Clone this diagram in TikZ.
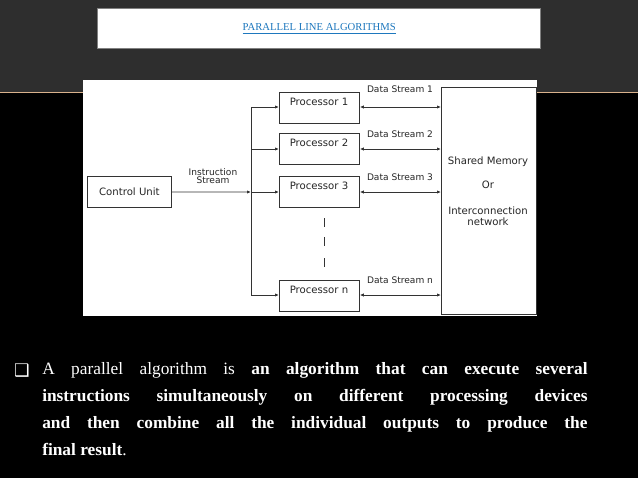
\documentclass[tikz,border=0pt]{standalone}
\usepackage{fontspec}
\setmainfont{Liberation Serif}
\newfontfamily\dv{DejaVu Sans}
\begin{document}
\begin{tikzpicture}[x=0.75pt,y=-0.75pt,
  box/.style={draw=black!80,line width=0.6pt,fill=white,inner sep=0},
  lbl/.style={font=\dv\fontsize{6.8}{8}\selectfont,text=black!85},
  plbl/.style={font=\dv\fontsize{7.6}{9}\selectfont,text=black!85},
  conn/.style={line width=0.6pt,black!80},
  tip/.style={-{Latex[length=3pt,width=2.5pt]}},
  dtip/.style={{Latex[length=3pt,width=2.5pt]}-{Latex[length=3pt,width=2.5pt]}}]
\usetikzlibrary{arrows.meta}
\useasboundingbox (0,0) rectangle (638,478);
\fill[black] (0,0) rectangle (638,478);
\fill[black!82] (0,0) rectangle (638,92);
\draw[brown!60!white,line width=0.6pt] (0,92) -- (638,92);
% title
\node[box,draw=gray,line width=1pt,minimum width=443*0.75pt,minimum height=40*0.75pt,anchor=north west] (title) at (97,8) {};
\node[font=\fontsize{8}{10}\selectfont,text={rgb,255:red,30;green,120;blue,190}] (tt) at (title.center) {\underline{PARALLEL LINE ALGORITHMS}};
% diagram panel
\fill[white] (83,80) rectangle (537,316);
\node[box,minimum width=84*0.75pt,minimum height=31*0.75pt,anchor=north west,plbl] (cu) at (87,176) {Control Unit};
\node[box,minimum width=80*0.75pt,minimum height=31*0.75pt,anchor=north west,plbl] (p1) at (279,92) {};
\node[box,minimum width=80*0.75pt,minimum height=31*0.75pt,anchor=north west,plbl] (p2) at (279,133) {};
\node[box,minimum width=80*0.75pt,minimum height=31*0.75pt,anchor=north west,plbl] (p3) at (279,176) {};
\node[box,minimum width=80*0.75pt,minimum height=31*0.75pt,anchor=north west,plbl] (pn) at (279,280) {};
\node[plbl] at (319,102) {Processor 1};
\node[plbl] at (319,143) {Processor 2};
\node[plbl] at (319,186) {Processor 3};
\node[plbl] at (319,290) {Processor n};
\node[box,minimum width=95*0.75pt,minimum height=227*0.75pt,anchor=north west] (sm) at (441,87) {};
\node[plbl,align=center] at (488,162) {Shared Memory};
\node[plbl] at (488,185) {Or};
\node[plbl,align=center] at (488,216) {Interconnection\\[-1pt]network};
% bus
\coordinate (b1) at (251,107);
\coordinate (b2) at (251,149);
\coordinate (b3) at (251,192);
\coordinate (bn) at (251,295);
\draw[conn,tip] (cu.east) -- (b3);
\draw[conn] (b1) -- (bn);
\draw[conn,tip] (b1) -- (p1.west |- b1);
\draw[conn,tip] (b2) -- (p2.west |- b2);
\draw[conn,tip] (b3) -- (p3.west |- b3);
\draw[conn,tip] (bn) -- (pn.west |- bn);
\node[lbl,align=center] at (213,176) {Instruction\\[-1.5pt]Stream};
% data streams
\draw[conn,dtip] (p1.east |- b1) -- (sm.west |- b1);
\draw[conn,dtip] (p2.east |- b2) -- (sm.west |- b2);
\draw[conn,dtip] (p3.east |- b3) -- (sm.west |- b3);
\draw[conn,dtip] (pn.east |- bn) -- (sm.west |- bn);
\node[lbl] at (400,89) {Data Stream 1};
\node[lbl] at (400,134) {Data Stream 2};
\node[lbl] at (400,177) {Data Stream 3};
\node[lbl] at (400,280) {Data Stream n};
\draw[conn] (324,218) -- (324,227) (324,237) -- (324,246) (324,258) -- (324,267);
% text
\node[font=\dv\fontsize{13}{15}\selectfont,text=white] (bul) at (22,371) {❑};
\node[anchor=north west,text=white,text width=409pt,align=justify,font=\fontsize{13}{20.3}\selectfont,inner sep=0] (txt) at (42,362)
{A parallel algorithm is \textbf{an algorithm that can execute several}\linebreak
\textbf{instructions simultaneously on different processing devices}\linebreak
\textbf{and then combine all the individual outputs to produce the}\linebreak
\textbf{final result}.};
\end{tikzpicture}
\end{document}
